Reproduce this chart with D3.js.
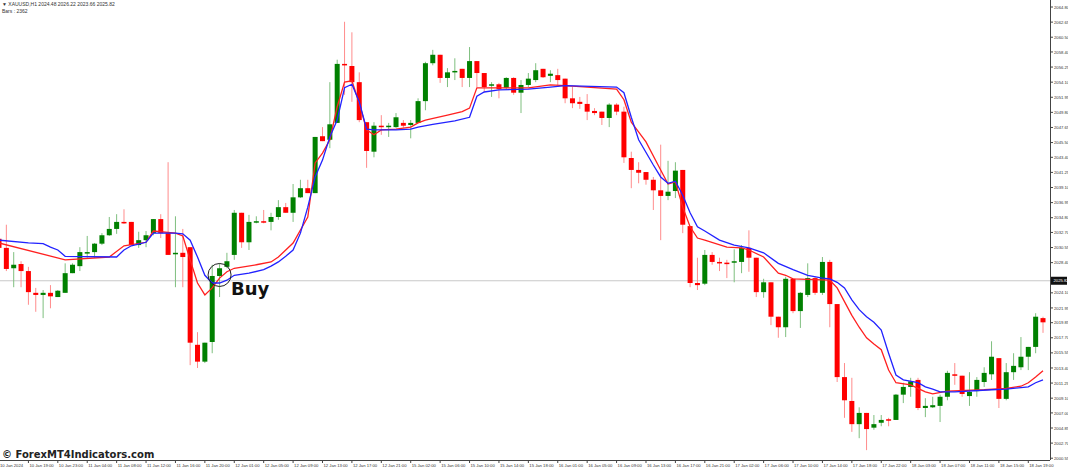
<!DOCTYPE html>
<html><head><meta charset="utf-8">
<script src="https://cdn.jsdelivr.net/npm/d3@7"></script>
<style>body{margin:0;background:#fff;}svg{display:block;font-family:"Liberation Sans",sans-serif;}</style>
</head><body><svg id="c" width="1068" height="468"></svg>
<script>
// OHLC per hourly candle
const opens=[2031.8,2030.5,2027.6,2028.2,2027.2,2024.1,2023.8,2024.1,2023.5,2024.1,2026.9,2027.9,2029.8,2029.9,2031.1,2032.3,2033.2,2034.2,2034.2,2030.9,2031.6,2032.6,2034.6,2032.6,2029.6,2029.8,2030.6,2016.7,2014.3,2017.1,2026.5,2027.8,2029.5,2035.5,2031.3,2034.2,2034.3,2034.2,2034.9,2036.3,2035.5,2037.7,2039.0,2038.3,2046.4,2045.9,2048.3,2056.7,2056.4,2054.1,2048.4,2044.2,2047.9,2047.7,2047.7,2048.3,2048.0,2048.3,2051.4,2056.8,2058.0,2054.7,2055.5,2056.0,2054.7,2057.1,2055.4,2053.6,2053.8,2053.3,2054.7,2052.6,2053.7,2054.4,2056.0,2055.0,2055.1,2054.6,2051.8,2051.3,2051.0,2050.0,2049.9,2049.0,2050.9,2049.9,2043.3,2041.6,2041.3,2040.2,2038.7,2037.9,2038.6,2041.6,2033.6,2025.5,2025.4,2029.5,2028.5,2028.4,2028.4,2028.5,2030.5,2029.1,2024.2,2025.6,2020.7,2019.2,2026.1,2021.5,2023.8,2026.2,2024.1,2028.5,2022.5,2012.1,2008.7,2005.4,2007.0,2004.9,2005.6,2006.1,2006.0,2009.6,2010.7,2011.7,2007.7,2007.8,2008.0,2009.3,2012.5,2012.3,2009.4,2010.1,2011.4,2012.5,2014.8,2009.0,2012.8,2013.5,2015.0,2016.4,2020.5];
const highs=[2031.9,2033.8,2029.9,2028.6,2027.8,2024.8,2024.5,2025.2,2024.5,2028.3,2028.3,2030.6,2032.2,2031.2,2032.6,2034.9,2035.3,2036.0,2034.2,2032.8,2032.9,2034.6,2035.3,2042.7,2035.0,2033.2,2030.6,2018.5,2017.0,2028.1,2028.3,2029.8,2035.9,2035.5,2035.2,2035.0,2035.9,2035.5,2037.3,2036.9,2039.6,2040.2,2040.2,2046.3,2047.7,2054.1,2057.3,2062.7,2061.2,2055.5,2048.4,2048.4,2049.4,2048.3,2049.7,2048.7,2048.7,2051.8,2057.0,2058.7,2058.0,2056.1,2057.5,2056.0,2059.1,2057.1,2055.4,2054.1,2054.0,2054.8,2054.8,2054.4,2055.4,2056.8,2056.0,2055.8,2056.0,2054.6,2053.4,2052.0,2052.4,2050.4,2049.9,2051.1,2051.1,2050.6,2044.2,2042.7,2041.3,2040.6,2045.2,2042.9,2042.7,2041.6,2033.6,2029.1,2030.2,2029.9,2029.1,2028.8,2030.3,2030.9,2033.0,2029.1,2026.1,2025.6,2020.7,2026.4,2026.1,2024.2,2028.3,2026.4,2029.2,2028.8,2022.5,2014.1,2012.0,2007.8,2007.0,2006.7,2006.7,2006.3,2009.7,2011.3,2012.0,2012.0,2009.1,2009.3,2009.6,2013.0,2014.1,2012.3,2012.8,2012.1,2013.5,2017.2,2014.8,2014.1,2015.5,2017.8,2016.4,2021.2,2020.7];
const lows=[2030.4,2027.2,2024.9,2024.9,2022.4,2021.4,2020.5,2021.9,2023.5,2024.1,2026.9,2027.2,2029.1,2029.1,2030.9,2032.2,2032.5,2033.9,2030.9,2030.5,2030.6,2032.3,2031.9,2029.5,2024.9,2024.9,2013.8,2013.4,2014.1,2015.5,2023.5,2027.6,2028.8,2030.5,2030.2,2034.0,2034.0,2033.0,2034.5,2035.5,2034.2,2037.6,2038.3,2038.3,2045.7,2044.7,2048.3,2052.3,2051.3,2048.4,2041.9,2043.4,2046.6,2046.3,2047.6,2047.6,2046.1,2048.3,2050.1,2056.5,2054.0,2053.4,2054.4,2053.4,2053.4,2053.4,2052.7,2052.0,2051.8,2053.0,2052.3,2049.7,2053.4,2054.1,2054.7,2054.1,2053.7,2051.1,2050.4,2050.3,2048.7,2049.4,2048.0,2047.7,2049.4,2042.6,2039.0,2039.7,2039.5,2035.9,2031.6,2037.3,2037.6,2032.6,2024.9,2024.5,2025.2,2028.1,2027.2,2026.2,2025.6,2026.9,2027.1,2023.5,2023.4,2019.5,2017.7,2017.8,2021.2,2019.1,2023.5,2023.8,2023.8,2019.2,2011.4,2006.3,2004.3,2003.4,2001.7,2004.6,2005.1,2005.1,2006.0,2008.4,2009.3,2007.4,2006.4,2007.7,2005.7,2008.8,2011.0,2009.3,2008.0,2009.3,2010.7,2011.7,2007.7,2008.8,2011.7,2013.1,2013.1,2015.5,2018.4];
const closes=[2030.5,2027.5,2028.1,2027.2,2024.2,2023.8,2024.1,2023.6,2024.4,2026.9,2028.1,2029.9,2029.9,2031.1,2032.3,2033.2,2034.2,2034.0,2030.9,2031.6,2032.3,2034.6,2032.6,2029.5,2029.8,2029.2,2017.0,2014.3,2017.0,2026.5,2027.6,2028.6,2035.5,2031.3,2034.2,2034.3,2034.2,2034.9,2036.3,2035.5,2037.7,2039.0,2038.3,2046.3,2045.7,2048.1,2056.7,2056.5,2054.1,2048.7,2044.3,2047.9,2047.7,2047.9,2049.1,2047.9,2048.3,2051.4,2056.8,2058.0,2054.7,2055.5,2055.7,2054.7,2057.1,2055.4,2053.4,2053.8,2053.1,2054.7,2052.6,2053.7,2054.6,2055.8,2054.8,2055.3,2054.4,2051.8,2051.1,2051.0,2049.9,2049.7,2049.0,2050.9,2049.9,2043.4,2041.6,2041.2,2040.2,2038.7,2037.9,2038.5,2041.5,2033.8,2025.5,2025.2,2029.5,2028.5,2028.4,2028.3,2028.6,2030.5,2029.1,2024.2,2025.6,2020.7,2019.2,2026.1,2021.5,2024.1,2026.2,2024.1,2028.5,2022.5,2012.1,2008.8,2005.4,2007.0,2004.7,2005.4,2006.0,2006.0,2009.6,2010.7,2011.5,2007.7,2008.0,2008.1,2009.3,2012.7,2012.3,2009.7,2010.0,2011.7,2012.7,2015.0,2009.0,2012.8,2013.7,2015.0,2016.4,2020.7,2019.9];
// indicator lines read as [candle index, price]
const redLine=[[0,2031.2],[9,2028.8],[15,2029.2],[17,2030.8],[20,2031.3],[21,2032.9],[24,2032.6],[25,2032.2],[26,2028.8],[27,2025.5],[28,2023.8],[29,2024.8],[30,2026.2],[31,2027.1],[32,2027.6],[35,2028.1],[37,2028.5],[38,2029.2],[40,2031.2],[42,2034.9],[43,2042.6],[44,2044.0],[45,2045.9],[46,2050.6],[47,2054.1],[48,2054.3],[49,2051.1],[50,2047.3],[51,2046.6],[52,2047.3],[54,2047.4],[56,2047.7],[57,2048.3],[58,2048.7],[61,2049.4],[63,2049.9],[64,2050.4],[65,2053.3],[72,2053.3],[75,2053.7],[77,2053.6],[84,2053.1],[85,2051.6],[86,2048.4],[88,2045.6],[90,2041.6],[91,2039.6],[92,2039.9],[93,2036.3],[94,2033.5],[95,2031.9],[96,2031.6],[99,2030.6],[101,2030.5],[102,2030.2],[104,2029.2],[106,2026.9],[107,2026.6],[108,2026.1],[113,2025.9],[114,2024.8],[116,2020.9],[117,2019.2],[118,2017.7],[119,2016.8],[120,2016.0],[121,2013.1],[122,2011.3],[124,2011.0],[126,2010.0],[127,2009.7],[129,2010.1],[134,2010.3],[137,2010.5],[139,2010.8],[140,2011.3],[141,2012.1],[142,2013.0]];
const blueLine=[[0,2031.6],[4,2031.2],[6,2031.1],[7,2030.6],[8,2030.2],[9,2029.3],[16,2029.2],[17,2030.2],[18,2030.8],[20,2031.3],[21,2032.6],[24,2032.6],[25,2032.5],[26,2031.6],[27,2029.2],[28,2026.6],[29,2025.5],[30,2025.5],[31,2025.9],[32,2026.6],[34,2026.9],[36,2027.4],[37,2027.9],[38,2028.5],[39,2029.3],[40,2030.2],[41,2032.6],[42,2036.3],[43,2040.6],[44,2043.0],[45,2046.3],[46,2048.7],[47,2053.3],[48,2053.8],[49,2051.3],[50,2047.4],[51,2047.3],[54,2047.3],[56,2047.4],[57,2047.7],[59,2048.1],[62,2048.6],[64,2049.1],[65,2052.1],[66,2052.7],[68,2053.0],[72,2053.1],[75,2053.4],[77,2053.6],[84,2053.4],[85,2052.6],[86,2049.1],[87,2045.9],[89,2042.3],[90,2040.6],[91,2039.7],[92,2040.0],[93,2038.0],[94,2035.5],[95,2033.5],[96,2032.9],[98,2031.6],[100,2030.9],[102,2030.5],[104,2029.8],[106,2028.3],[108,2027.4],[110,2026.6],[112,2026.2],[113,2026.1],[114,2025.6],[115,2024.8],[116,2023.1],[117,2021.7],[118,2020.7],[119,2019.9],[120,2018.8],[121,2015.5],[122,2012.4],[123,2011.7],[125,2011.3],[126,2010.7],[127,2010.4],[128,2010.0],[130,2010.0],[135,2010.3],[137,2010.4],[139,2010.6],[140,2010.7],[141,2011.3],[142,2011.7]];
const priceTicks=[2064.80,2062.65,2060.50,2058.40,2056.25,2054.10,2051.95,2049.80,2047.65,2045.50,2043.40,2041.25,2039.10,2036.95,2034.80,2032.70,2030.55,2028.40,2024.10,2021.95,2019.85,2017.70,2015.55,2013.40,2011.25,2009.10,2007.00,2004.85,2002.70,2000.55];
const timeLabels=["10 Jan 2024","10 Jan 19:00","10 Jan 23:00","11 Jan 04:00","11 Jan 08:00","11 Jan 12:00","11 Jan 16:00","11 Jan 20:00","12 Jan 01:00","12 Jan 05:00","12 Jan 09:00","12 Jan 13:00","12 Jan 17:00","12 Jan 21:00","15 Jan 02:00","15 Jan 06:00","15 Jan 10:00","15 Jan 14:00","15 Jan 18:00","16 Jan 01:00","16 Jan 05:00","16 Jan 09:00","16 Jan 13:00","16 Jan 17:00","16 Jan 21:00","17 Jan 02:00","17 Jan 06:00","17 Jan 10:00","17 Jan 14:00","17 Jan 18:00","17 Jan 22:00","18 Jan 03:00","18 Jan 07:00","18 Jan 11:00","18 Jan 15:00","18 Jan 19:00"];
const lastPrice=2025.82;
const buyIndex=29;

const svg=d3.select("#c");
const W=1050,H=460;
const x=d3.scaleLinear().domain([0,142]).range([-1,1043]);
const y=d3.scaleLinear().domain([2065.8,2000.58]).range([0,458]);
svg.append("clipPath").attr("id","cl").append("rect").attr("width",W).attr("height",H);
const g=svg.append("g").attr("clip-path","url(#cl)");

g.append("line").attr("x1",0).attr("x2",W).attr("y1",y(lastPrice)).attr("y2",y(lastPrice)).attr("stroke","#c8c8c8").attr("stroke-width",1);

const idx=d3.range(opens.length);
const col=i=>closes[i]>=opens[i]?"#008000":"#ff0000";
const wcol=i=>closes[i]>=opens[i]?"#7fbf7f":"#ff8c8c";
g.selectAll(".w").data(idx).join("line").attr("x1",i=>x(i)).attr("x2",i=>x(i))
 .attr("y1",i=>y(highs[i])).attr("y2",i=>y(lows[i])).attr("stroke",wcol).attr("stroke-width",1);
g.selectAll(".b").data(idx).join("rect").attr("x",i=>x(i)-2.5).attr("width",5)
 .attr("y",i=>y(Math.max(opens[i],closes[i]))).attr("height",i=>Math.max(1.5,Math.abs(y(opens[i])-y(closes[i]))))
 .attr("fill",col);

const ln=d3.line().x(d=>x(d[0])).y(d=>y(d[1]));
g.append("path").attr("d",ln(redLine)).attr("fill","none").attr("stroke","#ff2020").attr("stroke-width",1.3);
g.append("path").attr("d",ln(blueLine)).attr("fill","none").attr("stroke","#2222ff").attr("stroke-width",1.3);

// Buy marker
g.append("circle").attr("cx",x(buyIndex+1)).attr("cy",y(closes[buyIndex])-1).attr("r",11.5).attr("fill","none").attr("stroke","#222").attr("stroke-width",1);
svg.append("text").attr("x",231).attr("y",295).text("Buy").attr("font-family","DejaVu Sans").attr("font-weight","bold").attr("font-size",18).attr("fill","#111");

// axes
svg.append("line").attr("x1",W+0.5).attr("x2",W+0.5).attr("y1",0).attr("y2",H).attr("stroke","#444");
svg.append("line").attr("x1",0).attr("x2",W).attr("y1",H+0.5).attr("y2",H+0.5).attr("stroke","#444");
const ya=svg.append("g");
priceTicks.forEach(p=>{
  ya.append("line").attr("x1",W).attr("x2",W+3).attr("y1",y(p)).attr("y2",y(p)).attr("stroke","#444");
  ya.append("text").attr("x",W+4).attr("y",y(p)+1.6).text(p.toFixed(2)).attr("font-size",4.2).attr("fill","#333");
});
svg.append("rect").attr("x",W+1).attr("y",y(lastPrice)-4).attr("width",16).attr("height",8).attr("fill","#111");
svg.append("text").attr("x",W+3.5).attr("y",y(lastPrice)+1.6).text(lastPrice.toFixed(2)).attr("font-size",4.2).attr("fill","#fff");
timeLabels.forEach((t,k)=>{
  const xi=k===0?-1:x(k*4);
  svg.append("line").attr("x1",xi).attr("x2",xi).attr("y1",H).attr("y2",H+3).attr("stroke","#444");
  svg.append("text").attr("x",xi+1).attr("y",H+6.5).text(t).attr("font-size",4.2).attr("fill","#333");
});
svg.append("text").attr("x",2).attr("y",6).text("▼ XAUUSD,H1  2024.48 2026.22 2023.66 2025.82").attr("font-size",5).attr("fill","#333");
svg.append("text").attr("x",2).attr("y",12.5).text("Bars : 2362").attr("font-size",5).attr("fill","#333");
svg.append("text").attr("x",2).attr("y",458).text("© ForexMT4Indicators.com").attr("font-family","DejaVu Sans").attr("font-size",10).attr("font-weight","bold").attr("fill","#222");
</script></body></html>
